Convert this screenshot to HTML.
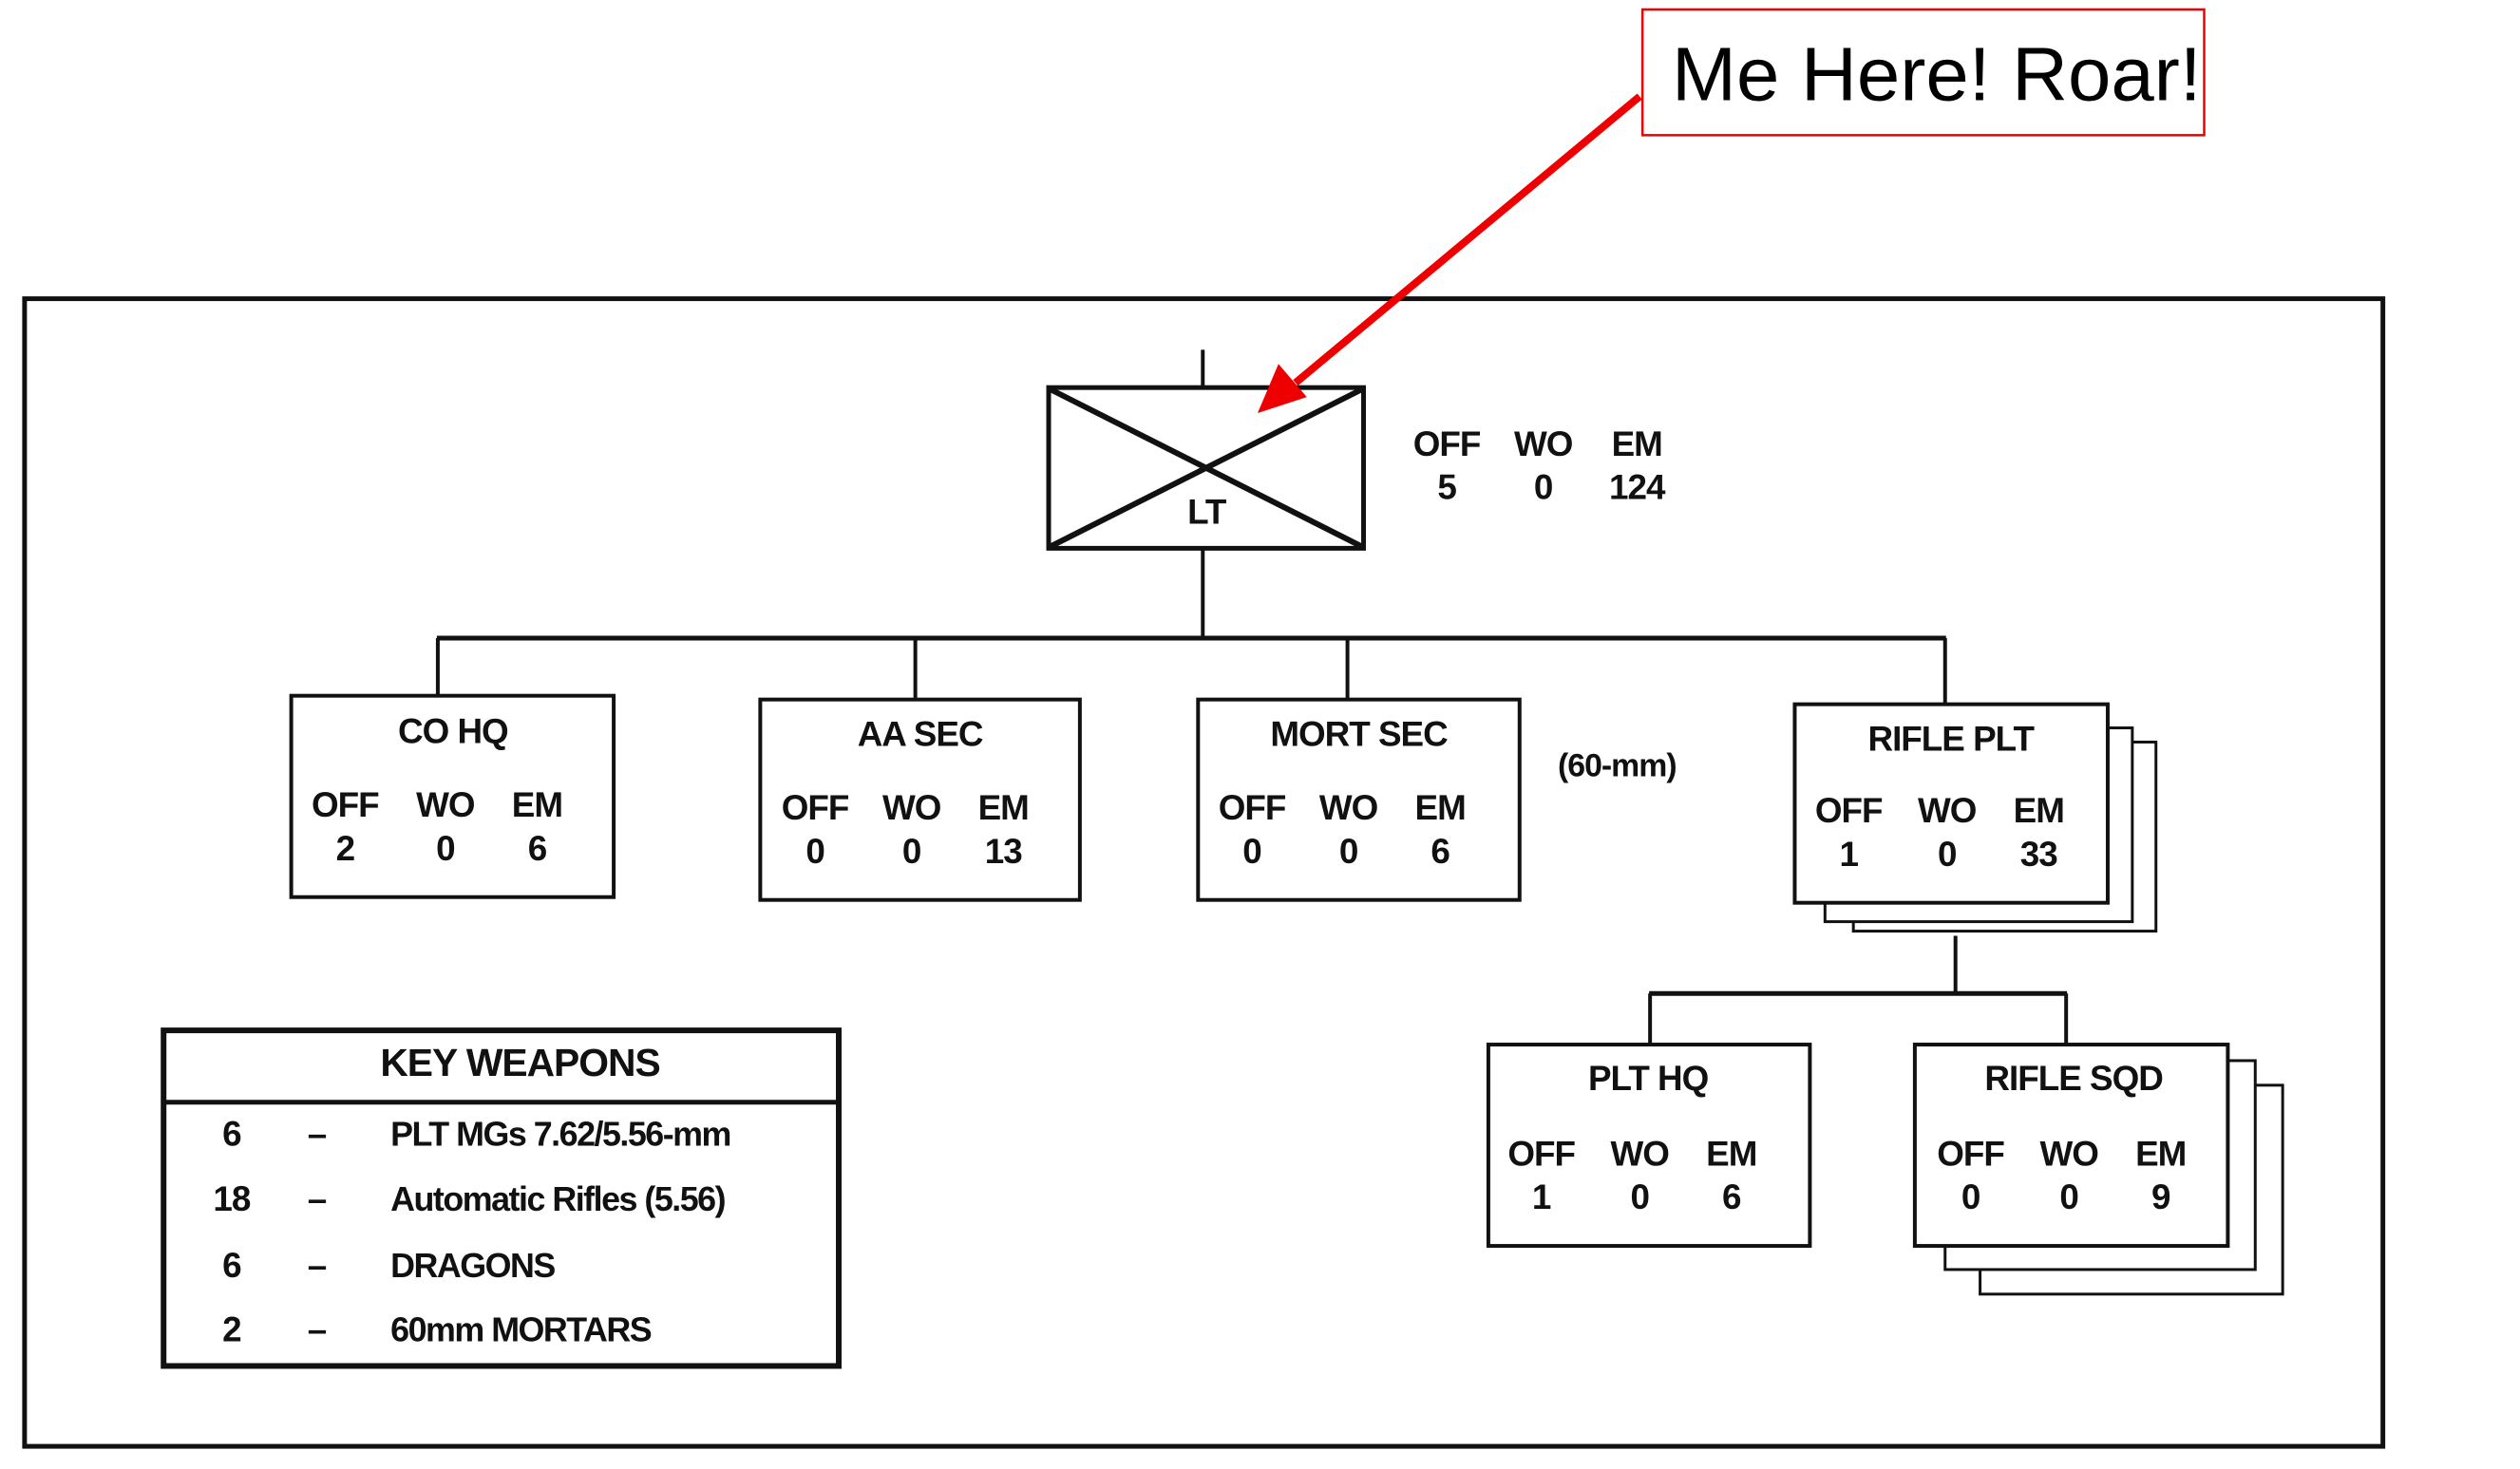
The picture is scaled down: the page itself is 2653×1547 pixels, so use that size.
<!DOCTYPE html>
<html><head><style>
html,body{margin:0;padding:0;background:#fff;}
svg{display:block;}
text{font-family:"Liberation Sans",sans-serif;font-weight:bold;fill:#111;}
</style></head><body>
<svg width="2653" height="1547" viewBox="0 0 2653 1547" xmlns="http://www.w3.org/2000/svg">
<rect width="2653" height="1547" fill="#fff"/>
<g transform="scale(0.9955)">
<!-- outer frame -->
<rect x="26" y="316" width="2494" height="1214" fill="none" stroke="#111" stroke-width="5"/>
<!-- red callout -->
<rect x="1737" y="10" width="594" height="133" fill="#fff" stroke="#e00" stroke-width="2.5"/>
<text x="1768" y="106" font-size="80" textLength="560" lengthAdjust="spacingAndGlyphs" style="font-weight:normal;fill:#000">Me Here! Roar!</text>
<g stroke="#111" stroke-width="4" fill="none">
<!-- LT -->
<line x1="1272" y1="370" x2="1272" y2="410"/>
<rect x="1109" y="410" width="333" height="170" stroke-width="5"/>
<line x1="1111" y1="412" x2="1440" y2="578" stroke-width="6"/>
<line x1="1440" y1="412" x2="1111" y2="578" stroke-width="6"/>
<line x1="1272" y1="580" x2="1272" y2="675"/>
<line x1="462" y1="675" x2="2058" y2="675" stroke-width="5"/>
<line x1="463" y1="675" x2="463" y2="735"/>
<line x1="968" y1="675" x2="968" y2="740"/>
<line x1="1425" y1="675" x2="1425" y2="740"/>
<line x1="2057" y1="675" x2="2057" y2="745"/>
<!-- boxes -->
<rect x="308" y="736" width="341" height="213"/>
<rect x="804" y="740" width="338" height="212"/>
<rect x="1267" y="740" width="340" height="212"/>
<!-- rifle plt stack -->
<rect x="1960" y="785" width="320" height="200" fill="#fff" stroke-width="3"/>
<rect x="1930" y="770" width="325" height="205" fill="#fff" stroke-width="3"/>
<rect x="1898" y="745" width="331" height="210" fill="#fff"/>
<line x1="2068" y1="990" x2="2068" y2="1051"/>
<line x1="1744" y1="1051" x2="2186" y2="1051" stroke-width="5"/>
<line x1="1745" y1="1051" x2="1745" y2="1105"/>
<line x1="2185" y1="1051" x2="2185" y2="1105"/>
<rect x="1574" y="1105" width="340" height="213"/>
<rect x="2094" y="1148" width="320" height="221" fill="#fff" stroke-width="3"/>
<rect x="2057" y="1122" width="328" height="221" fill="#fff" stroke-width="3"/>
<rect x="2025" y="1105" width="331" height="213" fill="#fff"/>
<!-- key weapons -->
<rect x="173" y="1090" width="714" height="355" stroke-width="6"/>
<line x1="173" y1="1166" x2="887" y2="1166" stroke-width="5"/>
</g>
<!-- red arrow -->
<line x1="1734" y1="102" x2="1370" y2="405" stroke="#e00" stroke-width="8"/>
<polygon points="1330,437 1352,385 1382,420" fill="#e00"/>
<g font-size="37" text-anchor="middle" letter-spacing="-1">
<text x="1276" y="554">LT</text>
<text x="1530" y="482">OFF</text><text x="1632" y="482">WO</text><text x="1731" y="482">EM</text>
<text x="1530" y="528">5</text><text x="1632" y="528">0</text><text x="1731" y="528">124</text>
<text x="479" y="786">CO HQ</text>
<text x="365" y="864">OFF</text><text x="471" y="864">WO</text><text x="568" y="864">EM</text>
<text x="365" y="910">2</text><text x="471" y="910">0</text><text x="568" y="910">6</text>
<text x="973" y="789">AA SEC</text>
<text x="862" y="867">OFF</text><text x="964" y="867">WO</text><text x="1061" y="867">EM</text>
<text x="862" y="913">0</text><text x="964" y="913">0</text><text x="1061" y="913">13</text>
<text x="1437" y="789">MORT SEC</text>
<text x="1324" y="867">OFF</text><text x="1426" y="867">WO</text><text x="1523" y="867">EM</text>
<text x="1324" y="913">0</text><text x="1426" y="913">0</text><text x="1523" y="913">6</text>
<text x="1710" y="821" font-size="34">(60-mm)</text>
<text x="2063" y="794">RIFLE PLT</text>
<text x="1955" y="870">OFF</text><text x="2059" y="870">WO</text><text x="2156" y="870">EM</text>
<text x="1955" y="916">1</text><text x="2059" y="916">0</text><text x="2156" y="916">33</text>
<text x="1743" y="1153">PLT HQ</text>
<text x="1630" y="1233">OFF</text><text x="1734" y="1233">WO</text><text x="1831" y="1233">EM</text>
<text x="1630" y="1279">1</text><text x="1734" y="1279">0</text><text x="1831" y="1279">6</text>
<text x="2193" y="1153">RIFLE SQD</text>
<text x="2084" y="1233">OFF</text><text x="2188" y="1233">WO</text><text x="2285" y="1233">EM</text>
<text x="2084" y="1279">0</text><text x="2188" y="1279">0</text><text x="2285" y="1279">9</text>
<text x="550" y="1138" font-size="41">KEY WEAPONS</text>
<text x="245" y="1212">6</text><text x="335" y="1212">–</text>
<text x="245" y="1281">18</text><text x="335" y="1281">–</text>
<text x="245" y="1351">6</text><text x="335" y="1351">–</text>
<text x="245" y="1419">2</text><text x="335" y="1419">–</text>
</g>
<g font-size="36" letter-spacing="-1.5">
<text x="413" y="1212">PLT MGs 7.62/5.56-mm</text>
<text x="413" y="1281">Automatic Rifles (5.56)</text>
<text x="413" y="1351">DRAGONS</text>
<text x="413" y="1419">60mm MORTARS</text>
</g>
</g>
</svg>
</body></html>
